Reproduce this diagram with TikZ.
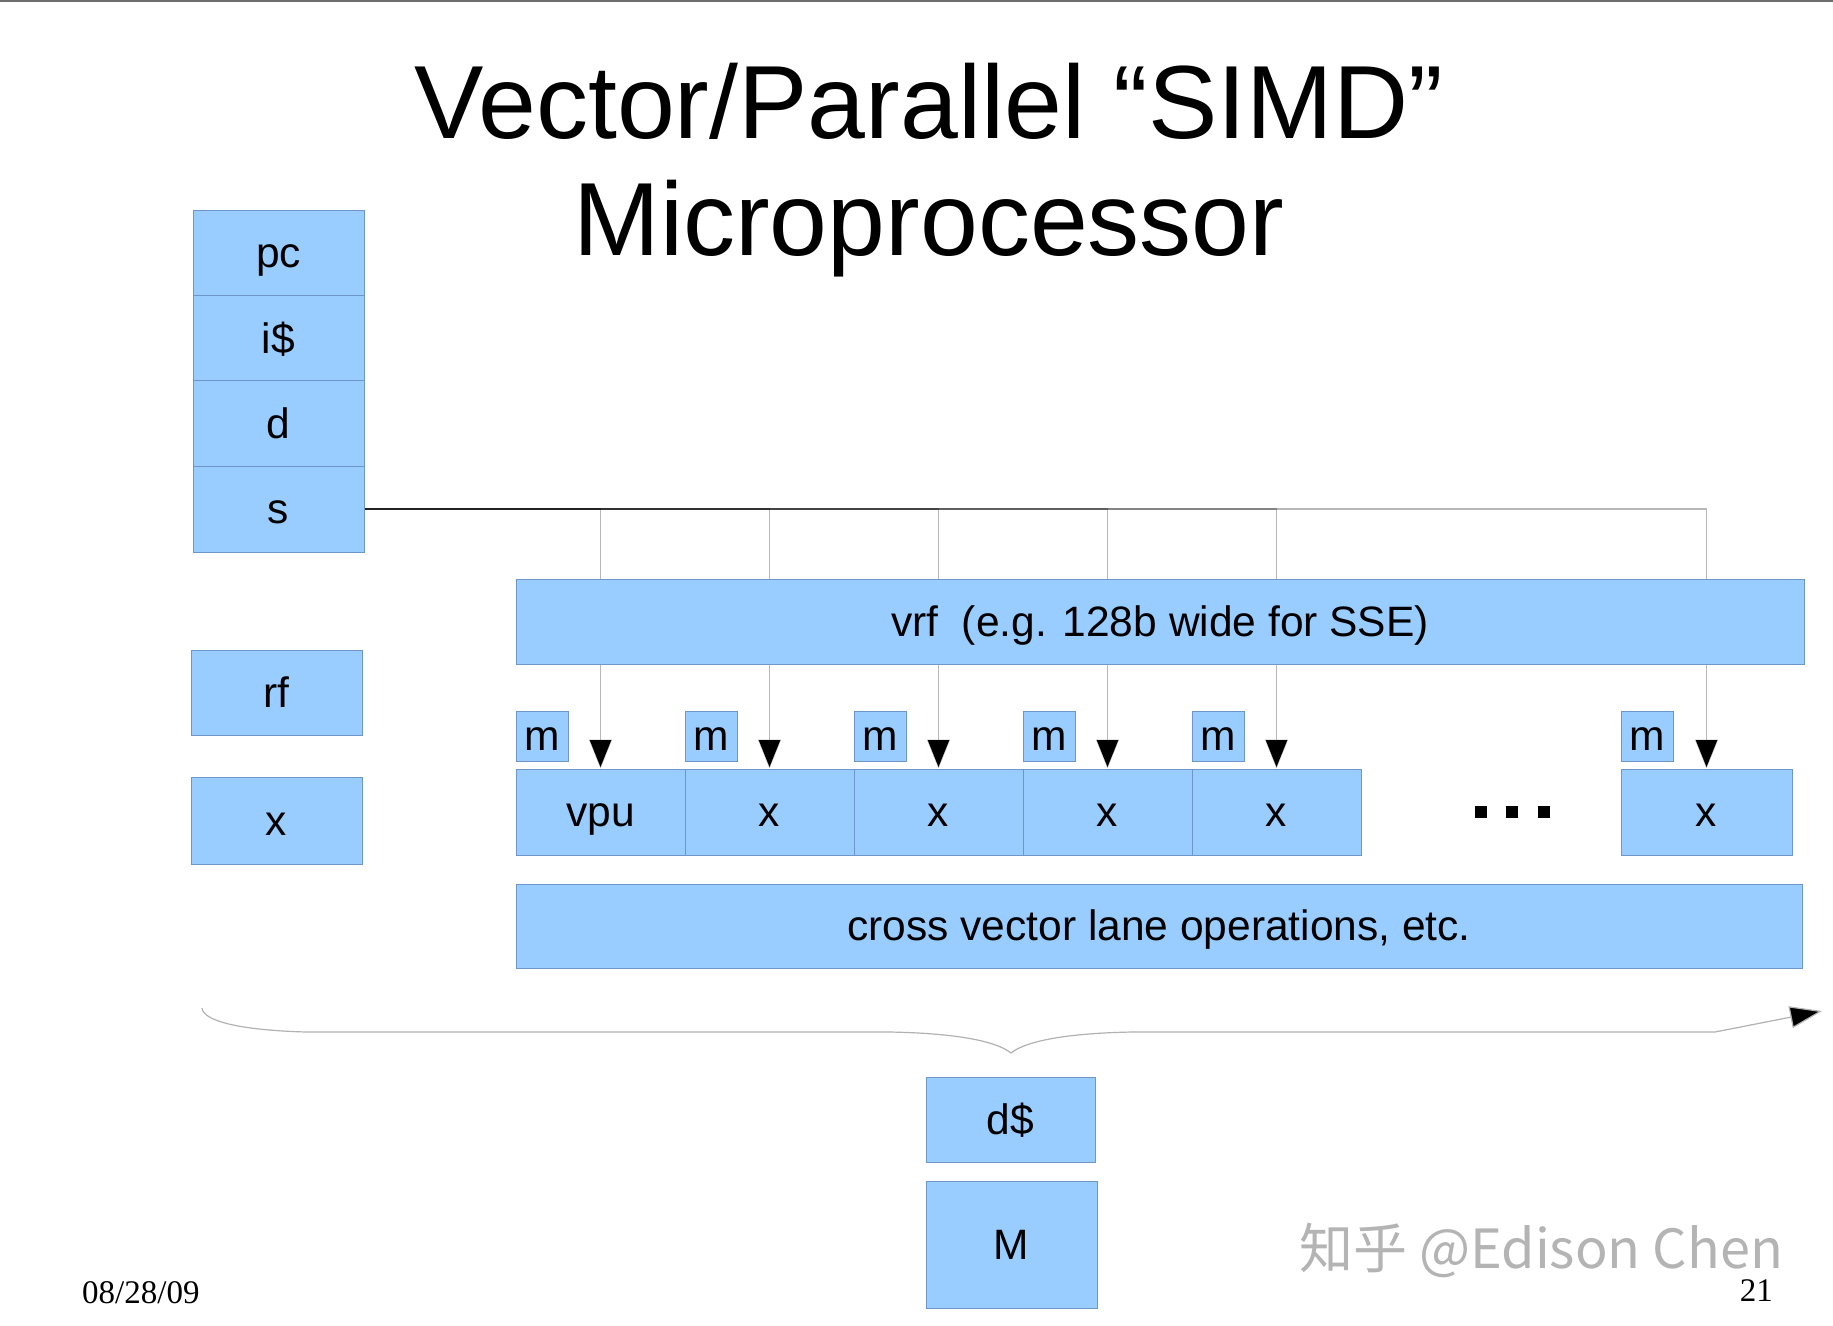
\documentclass[tikz,border=0pt]{standalone}
\usepackage{fontspec}
\setmainfont{Liberation Sans}
\newfontfamily\seriffont{Liberation Serif}
\newfontfamily\cjkfont{Noto Sans CJK SC}
\usetikzlibrary{arrows.meta}
\definecolor{boxfill}{RGB}{153,204,255}
\definecolor{boxline}{RGB}{110,150,200}
\definecolor{topline}{RGB}{110,110,110}
\definecolor{bracecol}{RGB}{178,178,178}
\definecolor{wmcol}{RGB}{180,180,180}
\begin{document}
\begin{tikzpicture}[x=1pt,y=-1pt,
  blk/.style={draw=boxline, fill=boxfill, line width=1pt, inner sep=0pt,
    font=\fontsize{42.5}{50}\selectfont, text height=38.5pt, text depth=9pt},
  conn/.style={draw=black, draw opacity=0.28, line width=1.2pt,
    -{Triangle[width=23pt,length=29pt,fill=black]}},
  brc/.style={draw=bracecol, line width=1.2pt,
    -{Triangle[width=22pt,length=32pt,fill=black]}},
  lane/.style={blk, minimum width=169pt, minimum height=86pt},
  mbox/.style={blk, minimum width=52pt, minimum height=50pt},
  col/.style={blk, minimum width=171pt, minimum height=86pt},
]
\useasboundingbox (0,0) rectangle (1833,1325);
\fill[white] (0,0) rectangle (1833,1325);

% top rule
\coordinate (tl) at (0,1);
\coordinate (tr) at (1833,1);
\draw[topline, line width=2pt] (tl) -- (tr);

% title
\node[anchor=base, inner sep=0pt, font=\fontsize{104}{117}\selectfont] (t1) at (929,138) {Vector/Parallel “SIMD”};
\node[anchor=base, inner sep=0pt, font=\fontsize{104}{117}\selectfont] (t2) at (929,255) {Microprocessor};

% left column
\node[col] (pc) at (278.5,253) {pc};
\node[col] (ic) at (278.5,338.5) {i\$};
\node[col] (d) at (278.5,423.5) {d};
\node[col] (s) at (278.5,509) {s};
\node[col, minimum height=85pt] (rf) at (276.5,692.5) {rf};
\node[col, minimum height=87pt] (xl) at (276.5,820.5) {x};

% lanes
\node[lane] (l1) at (600.5,812) {vpu};
\node[lane] (l2) at (769.5,812) {x};
\node[lane] (l3) at (938.5,812) {x};
\node[lane] (l4) at (1107.5,812) {x};
\node[lane] (l5) at (1276.5,812) {x};
\node[lane, minimum width=171pt] (l6) at (1706.5,812) {x};

% m boxes
\node[mbox] (m1) at (542,736) {m};
\node[mbox] (m2) at (711,736) {m};
\node[mbox] (m3) at (880,736) {m};
\node[mbox] (m4) at (1049,736) {m};
\node[mbox] (m5) at (1218,736) {m};
\node[mbox] (m6) at (1647,736) {m};

% dots
\node[inner sep=0pt] (dots) at (1512,812) {\rule{12pt}{12pt}\hspace{19.5pt}\rule{12pt}{12pt}\hspace{19.5pt}\rule{12pt}{12pt}};

% connectors from s to lanes
\foreach \l in {l1,l2,l3,l4,l5,l6} {
  \draw[conn] (s.east) -| (\l.north);
}

% vrf on top of connectors
\node[blk, minimum width=1288pt, minimum height=85pt] (vrf) at (1160,621.5) {vrf\ \ (e.g. 128b wide for SSE)};

% cross lane
\node[blk, minimum width=1286pt, minimum height=84pt] (cross) at (1159,926) {cross vector lane operations, etc.};

% memory
\node[blk, minimum width=169pt, minimum height=85pt] (dc) at (1010.5,1119.5) {d\$};
\node[blk, minimum width=171pt, minimum height=127pt] (mem) at (1011.5,1244.5) {M};

% brace
\coordinate (b0) at (202,1008);
\coordinate (b1) at (306,1032);
\coordinate (b2) at (889,1032);
\coordinate (b3) at (1011,1053);
\coordinate (b4) at (1133,1032);
\coordinate (b5) at (1715,1032);
\coordinate (b6) at (1822,1011);
\draw[brc] (b0) .. controls (203,1020) and (235,1030) .. (b1) -- (b2)
  .. controls (950,1033) and (995,1040) .. (b3)
  .. controls (1027,1040) and (1072,1033) .. (b4) -- (b5) -- (b6);

% footer
\node[anchor=base west, inner sep=0pt, font=\seriffont\fontsize{33}{40}\selectfont] (date) at (82,1303) {08/28/09};
\node[anchor=base east, inner sep=0pt, font=\seriffont\fontsize{33}{40}\selectfont] (pg) at (1773,1301) {21};

% watermark
\node[anchor=base west, inner sep=0pt, text=wmcol, font=\cjkfont\fontsize{54}{60}\selectfont] (wm) at (1299,1268) {知乎 @Edison Chen};
\end{tikzpicture}
\end{document}
